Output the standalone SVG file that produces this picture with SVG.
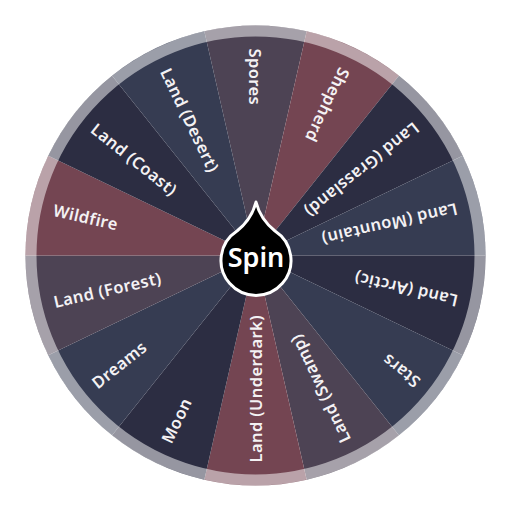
<svg xmlns="http://www.w3.org/2000/svg" width="512" height="512" viewBox="0 0 512 512">
<style>
.P{fill:#4d4354}.M{fill:#744552}.N{fill:#2c2d42}.S{fill:#363c52}
.lbl{font-family:"Noto Sans","DejaVu Sans",sans-serif;font-weight:600;font-size:16.5px;letter-spacing:0.4px;fill:#f4f2f4;dominant-baseline:central;text-anchor:start}
.spin{font-family:"Noto Sans","DejaVu Sans",sans-serif;font-weight:600;font-size:27px;fill:#ffffff;text-anchor:middle}
</style>
<rect width="512" height="512" fill="#ffffff"/>
<g id="wheel">
<g id="slices">
<path id="s0" class="P" d="M255.5,255.5 L204.32,31.27 A230,230 0 0 1 306.68,31.27 Z"/>
<path id="s1" class="M" d="M255.5,255.5 L306.68,31.27 A230,230 0 0 1 398.90,75.68 Z"/>
<path id="s2" class="N" d="M255.5,255.5 L398.90,75.68 A230,230 0 0 1 462.72,155.71 Z"/>
<path id="s3" class="S" d="M255.5,255.5 L462.72,155.71 A230,230 0 0 1 485.5,255.5 Z"/>
<path id="s4" class="N" d="M255.5,255.5 L485.5,255.5 A230,230 0 0 1 462.72,355.29 Z"/>
<path id="s5" class="S" d="M255.5,255.5 L462.72,355.29 A230,230 0 0 1 398.90,435.32 Z"/>
<path id="s6" class="P" d="M255.5,255.5 L398.90,435.32 A230,230 0 0 1 306.68,479.73 Z"/>
<path id="s7" class="M" d="M255.5,255.5 L306.68,479.73 A230,230 0 0 1 204.32,479.73 Z"/>
<path id="s8" class="N" d="M255.5,255.5 L204.32,479.73 A230,230 0 0 1 112.10,435.32 Z"/>
<path id="s9" class="S" d="M255.5,255.5 L112.10,435.32 A230,230 0 0 1 48.28,355.29 Z"/>
<path id="s10" class="P" d="M255.5,255.5 L48.28,355.29 A230,230 0 0 1 25.5,255.5 Z"/>
<path id="s11" class="M" d="M255.5,255.5 L25.5,255.5 A230,230 0 0 1 48.28,155.71 Z"/>
<path id="s12" class="N" d="M255.5,255.5 L48.28,155.71 A230,230 0 0 1 112.10,75.68 Z"/>
<path id="s13" class="S" d="M255.5,255.5 L112.10,75.68 A230,230 0 0 1 204.32,31.27 Z"/>
</g>
<circle id="rim" cx="255.5" cy="255.5" r="224.5" fill="none" stroke="#ffffff" stroke-opacity="0.5" stroke-width="11"/>
<g id="labels">
<text class="lbl" x="48.5" y="255.5" transform="rotate(90 255.5 255.5)">Spores</text>
<text class="lbl" x="48.5" y="255.5" transform="rotate(115.714 255.5 255.5)">Shepherd</text>
<text class="lbl" x="48.5" y="255.5" transform="rotate(141.429 255.5 255.5)">Land (Grassland)</text>
<text class="lbl" x="48.5" y="255.5" transform="rotate(167.143 255.5 255.5)">Land (Mountain)</text>
<text class="lbl" x="48.5" y="255.5" transform="rotate(192.857 255.5 255.5)">Land (Arctic)</text>
<text class="lbl" x="48.5" y="255.5" transform="rotate(218.571 255.5 255.5)">Stars</text>
<text class="lbl" x="48.5" y="255.5" transform="rotate(244.286 255.5 255.5)">Land (Swamp)</text>
<text class="lbl" x="48.5" y="255.5" transform="rotate(270 255.5 255.5)">Land (Underdark)</text>
<text class="lbl" x="48.5" y="255.5" transform="rotate(295.714 255.5 255.5)">Moon</text>
<text class="lbl" x="48.5" y="255.5" transform="rotate(321.429 255.5 255.5)">Dreams</text>
<text class="lbl" x="48.5" y="255.5" transform="rotate(347.143 255.5 255.5)">Land (Forest)</text>
<text class="lbl" x="48.5" y="255.5" transform="rotate(12.857 255.5 255.5)">Wildfire</text>
<text class="lbl" x="48.5" y="255.5" transform="rotate(38.571 255.5 255.5)">Land (Coast)</text>
<text class="lbl" x="48.5" y="255.5" transform="rotate(64.286 255.5 255.5)">Land (Desert)</text>
</g>
</g>
<g id="spin-button">
<path d="M256,202 C259,214 265,223 275,231 A35,35 0 1 1 237,231 C247,223 253,214 256,202 Z" fill="#000000" stroke="#ffffff" stroke-width="3" stroke-linejoin="round"/>
<text class="spin" x="256" y="266.5">Spin</text>
</g>
</svg>
